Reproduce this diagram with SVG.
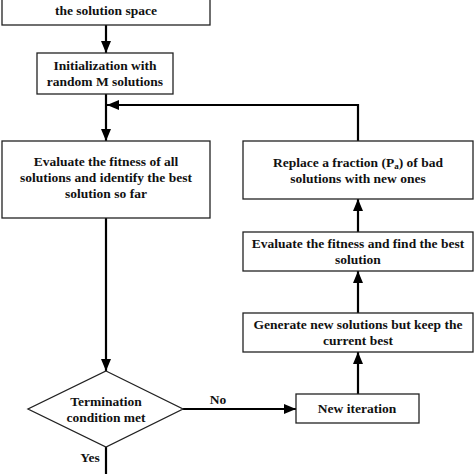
<svg xmlns="http://www.w3.org/2000/svg" width="474" height="474" viewBox="0 0 474 474">
<defs>
<marker id="ah" viewBox="0 0 12 10" refX="12" refY="5" markerWidth="12" markerHeight="10" markerUnits="userSpaceOnUse" orient="auto">
<path d="M0,0 L12,5 L0,10 z" fill="#000"/>
</marker>
<style>
.box{fill:#fff;stroke:#222;stroke-width:1.3}
.t{font-family:"Liberation Serif","Times New Roman",serif;font-weight:bold;font-size:13.5px;fill:#111;text-anchor:middle}
.c{fill:none;stroke:#000;stroke-width:2.2}
</style>
</defs>
<rect width="474" height="474" fill="#fff"/>
<g id="connectors">
<path class="c" d="M106,25 V53" marker-end="url(#ah)"/>
<path class="c" d="M106,94 V141" marker-end="url(#ah)"/>
<path class="c" d="M358,141 V105 H107" marker-end="url(#ah)"/>
<path class="c" d="M106,218 V371" marker-end="url(#ah)"/>
<path class="c" d="M183,409 H296" marker-end="url(#ah)"/>
<path class="c" d="M358,394 V352" marker-end="url(#ah)"/>
<path class="c" d="M358,313 V271" marker-end="url(#ah)"/>
<path class="c" d="M358,232 V199" marker-end="url(#ah)"/>
<path class="c" d="M106,447 V474"/>
<text class="t" x="218" y="404">No</text>
<text class="t" x="90" y="462">Yes</text>
</g>
<g id="n-define">
<rect class="box" x="2" y="-10" width="208" height="35"/>
<text class="t" x="106" y="15">the solution space</text>
</g>
<g id="n-init">
<rect class="box" x="37" y="53" width="136" height="41"/>
<text class="t" x="105" y="70">Initialization with</text>
<text class="t" x="105" y="86">random M solutions</text>
</g>
<g id="n-eval">
<rect class="box" x="2" y="141" width="208" height="77"/>
<text class="t" x="106" y="166">Evaluate the fitness of all</text>
<text class="t" x="106" y="182">solutions and identify the best</text>
<text class="t" x="106" y="198">solution so far</text>
</g>
<g id="n-term">
<polygon class="box" points="106,371 183,409 106,447 28,409"/>
<text class="t" x="106" y="406">Termination</text>
<text class="t" x="106" y="422">condition met</text>
</g>
<g id="n-newiter">
<rect class="box" x="296" y="394" width="123" height="29"/>
<text class="t" x="357" y="413">New iteration</text>
</g>
<g id="n-generate">
<rect class="box" x="243" y="313" width="230" height="39"/>
<text class="t" x="358" y="329">Generate new solutions but keep the</text>
<text class="t" x="358" y="345">current best</text>
</g>
<g id="n-evalbest">
<rect class="box" x="243" y="232" width="230" height="39"/>
<text class="t" x="358" y="248">Evaluate the fitness and find the best</text>
<text class="t" x="358" y="264">solution</text>
</g>
<g id="n-replace">
<rect class="box" x="243" y="141" width="230" height="58"/>
<text class="t" x="358" y="167">Replace a fraction (P<tspan font-size="9" dy="2">a</tspan><tspan dy="-2">) of bad</tspan></text>
<text class="t" x="358" y="183">solutions with new ones</text>
</g>
</svg>
